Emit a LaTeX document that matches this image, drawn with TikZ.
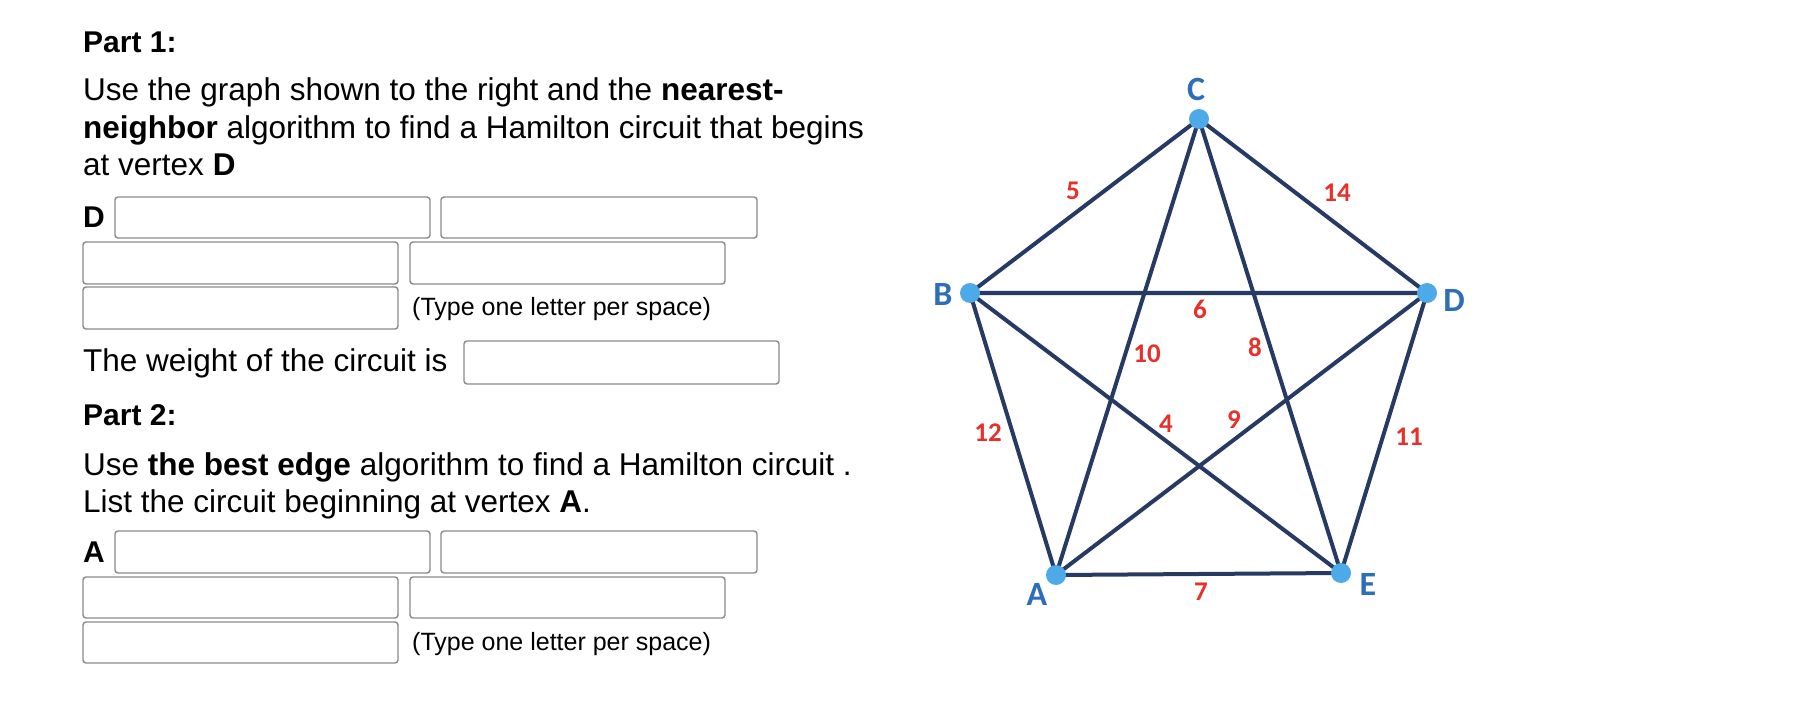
\documentclass[tikz,border=0pt]{standalone}
\usepackage{fontspec}
\setmainfont{Liberation Sans}
\newfontfamily\carl{Carlito}
\definecolor{edgec}{HTML}{263A63}
\definecolor{dotc}{HTML}{4DA9E8}
\definecolor{letc}{HTML}{2E6DB8}
\definecolor{wc}{HTML}{E8302A}
\definecolor{boxc}{HTML}{8A8A8A}
\begin{document}
\begin{tikzpicture}[x=1pt,y=-1pt,
  txt/.style={anchor=base west,inner sep=0pt,font=\fontsize{31.5}{36}\selectfont},
  btxt/.style={anchor=base west,inner sep=0pt,font=\bfseries\fontsize{30}{36}\selectfont},
  small/.style={anchor=base west,inner sep=0pt,font=\fontsize{25}{28}\selectfont},
  ansbox/.style={draw=boxc,line width=1.4pt,rounded corners=3pt},
  vtx/.style={circle,fill=dotc,inner sep=0pt,minimum size=20pt},
  vlab/.style={text=letc,font=\carl\bfseries\fontsize{34}{38}\selectfont,inner sep=0pt},
  wlab/.style={text=wc,font=\carl\bfseries\fontsize{27}{30}\selectfont,inner sep=0pt},
  edge/.style={draw=edgec,line width=4pt}]
\useasboundingbox (0,0) rectangle (1808,714);
\node[btxt] (p1) at (83,53) {Part 1:};
\node[txt] (l1) at (83,101) {Use the graph shown to the right and the \textbf{nearest-}};
\node[txt] (l2) at (83,139) {\textbf{neighbor} algorithm to find a Hamilton circuit that begins};
\node[txt] (l3) at (83,176) {at vertex \textbf{D}};
\node[btxt] (dl) at (83,228) {D};
\draw[ansbox] (115,197) rectangle (430,238);
\draw[ansbox] (441,197) rectangle (757,238);
\draw[ansbox] (83,242) rectangle (398,284);
\draw[ansbox] (410,242) rectangle (725,284);
\draw[ansbox] (83,287) rectangle (398,329);
\node[small] (t1) at (412,316) {(Type one letter per space)};
\node[txt] (w) at (83,371) {The weight of the circuit is};
\draw[ansbox] (464,341) rectangle (779,384);
\node[btxt] (p2) at (83,425) {Part 2:};
\node[txt] (m1) at (83,475) {Use \textbf{the best edge} algorithm to find a Hamilton circuit .};
\node[txt] (m2) at (83,512) {List the circuit beginning at vertex \textbf{A}.};
\node[btxt] (al) at (83,562) {A};
\draw[ansbox] (115,531) rectangle (430,573);
\draw[ansbox] (441,531) rectangle (757,573);
\draw[ansbox] (83,577) rectangle (398,618);
\draw[ansbox] (410,577) rectangle (725,618);
\draw[ansbox] (83,622) rectangle (398,663);
\node[small] (t2) at (412,650) {(Type one letter per space)};
% graph
\coordinate (C) at (1199,119);
\coordinate (B) at (970,293);
\coordinate (D) at (1427,293);
\coordinate (A) at (1056,575);
\coordinate (E) at (1341,573);
\draw[edge] (B)--(C) (C)--(D) (B)--(D) (C)--(A) (C)--(E) (B)--(A) (B)--(E) (D)--(A) (D)--(E) (A)--(E);
\foreach \v in {A,B,C,D,E} \node[vtx] (n\v) at (\v) {};
\node[vlab] (lC) at (1196,89) {C};
\node[vlab] (lB) at (943,294) {B};
\node[vlab] (lD) at (1454,300) {D};
\node[vlab] (lA) at (1037,594) {A};
\node[vlab] (lE) at (1368,584) {E};
\node[wlab] (w5) at (1073,191) {5};
\node[wlab] (w14) at (1337,193) {14};
\node[wlab] (w6) at (1200,309) {6};
\node[wlab] (w10) at (1147,354) {10};
\node[wlab] (w8) at (1255,347) {8};
\node[wlab] (w12) at (988,433) {12};
\node[wlab] (w4) at (1166,424) {4};
\node[wlab] (w9) at (1234,420) {9};
\node[wlab] (w11) at (1409,437) {11};
\node[wlab] (w7) at (1201,592) {7};
\end{tikzpicture}
\end{document}
